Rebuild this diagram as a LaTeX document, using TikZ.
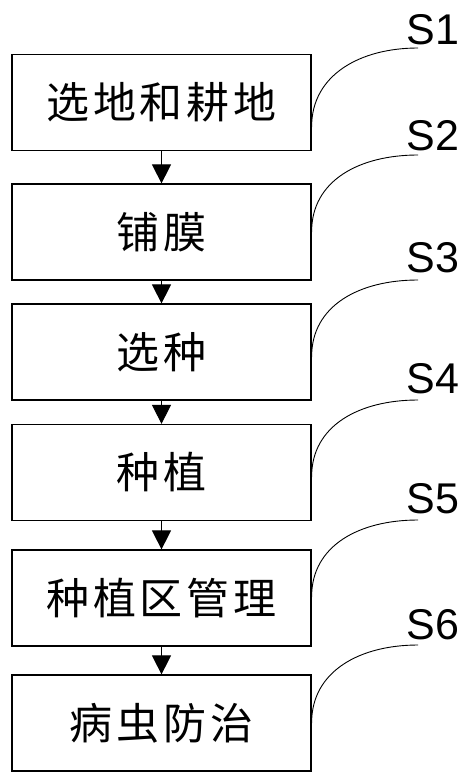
\documentclass[tikz,border=0pt]{standalone}
\usepackage{fontspec}
\setmainfont{Liberation Sans}
\newfontfamily\cjk{Noto Sans CJK SC}
\usetikzlibrary{arrows.meta}
\newcommand\gap{\hspace{4pt}}
\begin{document}
\begin{tikzpicture}[x=1pt,y=-1pt,
  stepbox/.style={draw=black,line width=1.2pt,minimum width=299pt,minimum height=96pt,inner sep=0pt,
    font=\cjk\fontsize{43pt}{45pt}\selectfont},
  flow/.style={line width=1pt,-{Triangle[width=19pt,length=19pt]}},
  lead/.style={line width=0.9pt},
  steplabel/.style={font=\fontsize{43pt}{46pt}\selectfont,inner sep=0pt}]
\useasboundingbox (0,0) rectangle (474,783);
\node[stepbox] (b1) at (161.5,102.5) {选\gap 地\gap 和\gap 耕\gap 地};
\node[stepbox] (b2) at (161.5,232) {铺\gap 膜};
\node[stepbox] (b3) at (161.5,352) {选\gap 种};
\node[stepbox] (b4) at (161.5,472.5) {种\gap 植};
\node[stepbox] (b5) at (161.5,598) {种\gap 植\gap 区\gap 管\gap 理};
\node[stepbox] (b6) at (161.5,723) {病\gap 虫\gap 防\gap 治};
\foreach \a/\b in {b1/b2,b2/b3,b3/b4,b4/b5,b5/b6}
  \draw[flow] (\a.south) -- (\b.north);
\node[steplabel] (s1) at (433,30) {S1};
\node[steplabel] (s2) at (433,136) {S2};
\node[steplabel] (s3) at (433,258) {S3};
\node[steplabel] (s4) at (433,379) {S4};
\node[steplabel] (s5) at (433,499) {S5};
\node[steplabel] (s6) at (433,625) {S6};
\foreach \n/\ys/\ye in {1/127/48,2/232/155,3/357/280,4/477/400,5/597/520,6/723/645}{
  \coordinate (c\n) at (418,\ye);
  \draw[lead] (b\n.east |- 0,\ys) .. controls (311.5,\ys-52) and (360,\ye) .. (c\n);
}
\end{tikzpicture}
\end{document}
